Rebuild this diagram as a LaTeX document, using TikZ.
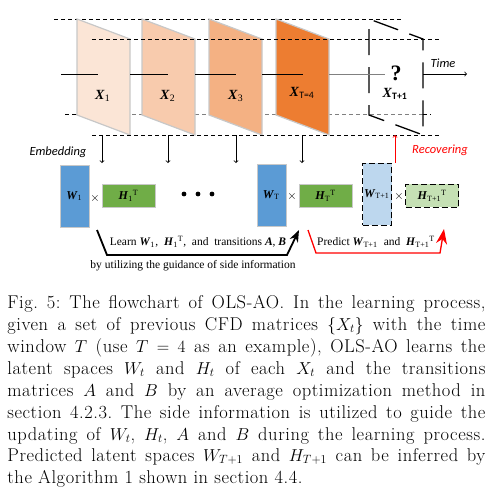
\documentclass[tikz,border=0pt]{standalone}
\usepackage{fontspec}
\setmainfont{Latin Modern Roman}
\newfontfamily\tnr{Liberation Serif}
\newfontfamily\calib{Carlito}
\usetikzlibrary{arrows, arrows.meta}

\definecolor{plA}{HTML}{FBE5D6}
\definecolor{plB}{HTML}{F8CBAD}
\definecolor{plC}{HTML}{F4B183}
\definecolor{plD}{HTML}{ED7D31}
\definecolor{wblue}{HTML}{5B9BD5}
\definecolor{hgreen}{HTML}{70AD47}
\definecolor{wlight}{HTML}{BDD7EE}
\definecolor{hlight}{HTML}{C5E0B4}
\definecolor{edgegray}{HTML}{C8C8C8}

\newcommand{\mat}[3]{\textbf{\textit{#1}}\textsubscript{#2}\textsuperscript{#3}}
\newcommand{\capl}[1]{\makebox[478pt][s]{#1}}

\begin{document}
\begin{tikzpicture}[x=1pt, y=-1pt, >=to, line width=0.8pt,
    plane/.style={draw=edgegray, line width=1.2pt},
    guide/.style={dash pattern=on 4pt off 3pt, line width=0.8pt},
    wbox/.style={rectangle, draw=edgegray, line width=1pt, fill=wblue, minimum width=29pt, minimum height=62pt, inner sep=0pt, font=\tnr\fontsize{12}{12}\selectfont},
    hbox/.style={rectangle, draw=edgegray, line width=1pt, fill=hgreen, minimum width=53pt, minimum height=23pt, inner sep=0pt, font=\tnr\fontsize{12}{12}\selectfont},
    predict/.style={draw=black, dash pattern=on 6pt off 3pt, line width=1pt},
    xlab/.style={font=\tnr\fontsize{14}{14}\selectfont, inner sep=0pt},
    side/.style={font=\calib\itshape\fontsize{12.5}{13}\selectfont, inner sep=0pt},
    note/.style={font=\tnr\fontsize{11.5}{12}\selectfont, inner sep=0pt},
    capline/.style={anchor=base west, inner sep=0pt, font=\fontsize{18.5}{22}\selectfont\addfontfeatures{LetterSpace=3}\frenchspacing}]

    \useasboundingbox (0,0) rectangle (494,493);

    % guide lines behind the planes
    \draw[guide] (54,19) -- (403,19);
    \draw[guide] (65,114) -- (76,114);
    \draw[guide, gray] (76,114) -- (423,114);
    \draw[guide] (423,114) -- (431,114);

    % the matrices X_1 ... X_T
    \foreach \lx/\col in {77/plA, 142/plB, 209/plC, 276/plD}
        \filldraw[plane, fill=\col] (\lx,19) -- ++(53,20) -- ++(0,96) -- ++(-53,-20) -- cycle;

    % the unknown matrix X_{T+1}
    \draw[line width=1.3pt, dash pattern=on 26pt off 12pt, dash phase=-5pt] (369,19) -- (423,39) -- (423,135) -- (369,115) -- cycle;

    \draw[guide] (92,39) -- (440,39);
    \draw[guide] (92,135) -- (440,135);

    % time axis
    \draw (61,74) -- (98,74);
    \draw (130,74) -- (168,74);
    \draw (195,74) -- (236,74);
    \draw (262,74) -- (303,74);
    \draw[gray] (329,74) -- (385,74);
    \coordinate (t0) at (423,74);
    \coordinate (t1) at (467,74);
    \draw[->] (t0) -- (t1);
    \node[side] (time) at (443,63) {Time};

    \node[xlab] (X1) at (103,96) {\mat{X}{1}{}};
    \node[xlab] (X2) at (168,96) {\mat{X}{2}{}};
    \node[xlab] (X3) at (236,96) {\mat{X}{3}{}};
    \node[xlab] (X4) at (302,93) {\textbf{\textit{X}}\textsubscript{\calib T=4}};
    \node[font=\tnr\bfseries\fontsize{22}{22}\selectfont, inner sep=0pt] (ask) at (396,73) {?};
    \node[xlab] (X5) at (395,94) {\textbf{\textit{X}}\textsubscript{\calib\bfseries T+1}};

    % latent spaces
    \node[wbox] (W1) at (74.5,196) {\mat{W}{1}{}};
    \node[font=\fontsize{13}{13}\selectfont, inner sep=0pt] (m1) at (95,198) {$\times$};
    \node[hbox] (H1) at (128.5,196) {\mat{H}{1}{T}};

    \foreach \dx in {184,198,212}
        \fill (\dx,194) circle (2.4pt);

    \node[wbox] (WT) at (271.5,195) {\mat{W}{T}{}};
    \node[font=\fontsize{13}{13}\selectfont, inner sep=0pt] (mT) at (292,196) {$\times$};
    \node[hbox] (HT) at (325.5,195.5) {\mat{H}{T}{T}};

    \node[wbox, fill=wlight, predict] (W5) at (377,194) {\mat{W}{T+1}{}};
    \node[font=\fontsize{13}{13}\selectfont, inner sep=0pt] (m5) at (399,196) {$\times$};
    \node[hbox, fill=hlight, predict] (H5) at (432,195.5) {\mat{H}{T+1}{T}};

    % embedding arrows
    \foreach \x [count=\i] in {102,168,236,302}{
        \coordinate (emb\i) at (\x,135);
        \coordinate (lat\i) at (\x,163);
        \draw[->] (emb\i) -- (lat\i);
    }
    \node[side] (embed) at (58,152) {Embedding};

    % recovering
    \coordinate (rec) at (395,135);
    \draw[->, red] ([xshift=3pt]W5.north east) -- (rec);
    \node[side, red] (recover) at (440,150) {Recovering};

    % learning and predicting
    \coordinate (lrnS) at (97,230);
    \coordinate (lrnE) at (299,230);
    \draw[line width=1.8pt, -{Stealth[length=12pt, width=9pt]}] (lrnS) -- (107,255) -- (287,255) -- (lrnE);
    \node[note] (learn) at (198,242) {Learn \mat{W}{1}{}, \ \mat{H}{1}{T}, \ and \ transitions \textbf{\textit{A}}, \textbf{\textit{B}}};
    \node[note] (guide) at (193,266) {by utilizing the guidance of side information};

    \coordinate (prdS) at (308,230);
    \coordinate (prdE) at (444,229);
    \draw[red, line width=1.3pt, -{Stealth[length=15pt, width=11pt]}] (prdS) -- (316,253) -- (440,253) -- (prdE);
    \node[note] (pred) at (376,242) {Predict \mat{W}{T+1}{} \ and \ \mat{H}{T+1}{T}};

    % caption
    \node[capline] (cl1) at (7,308) {\capl{Fig. 5: The flowchart of OLS-AO. In the learning process,}};
    \node[capline] (cl2) at (7,330) {\capl{given a set of previous CFD matrices $\{X_t\}$ with the time}};
    \node[capline] (cl3) at (7,352) {\capl{window $T$ (use $T=4$ as an example), OLS-AO learns the}};
    \node[capline] (cl4) at (7,374) {\capl{latent spaces $W_t$ and $H_t$ of each $X_t$ and the transitions}};
    \node[capline] (cl5) at (7,396) {\capl{matrices $A$ and $B$ by an average optimization method in}};
    \node[capline] (cl6) at (7,418) {\capl{section 4.2.3. The side information is utilized to guide the}};
    \node[capline] (cl7) at (7,440) {\capl{updating of $W_t$, $H_t$, $A$ and $B$ during the learning process.}};
    \node[capline] (cl8) at (7,461) {\capl{Predicted latent spaces $W_{T+1}$ and $H_{T+1}$ can be inferred by}};
    \node[capline] (cl9) at (7,483) {the Algorithm 1 shown in section 4.4.};

\end{tikzpicture}
\end{document}
